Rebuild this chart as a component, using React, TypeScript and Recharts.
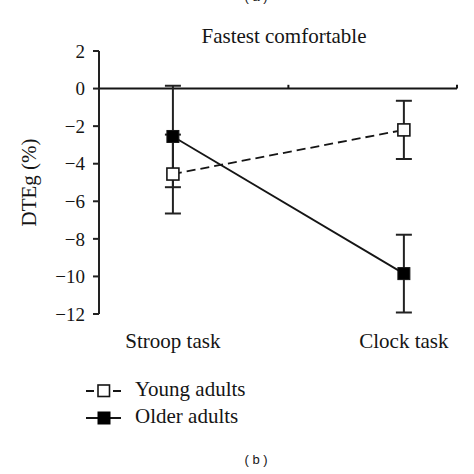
import React from 'react';
import { LineChart, Line, XAxis, YAxis, ReferenceLine, ErrorBar } from 'recharts';

const categories = ['Stroop task', 'Clock task'];
const youngMeans = [-4.55, -2.2];
const youngErrors = [2.1, 1.55];
const olderMeans = [-2.55, -9.85];
const olderErrors = [2.7, 2.07];
const seriesNames = ['Young adults', 'Older adults'];
const yTicks = [2, 0, -2, -4, -6, -8, -10, -12];
const chartTitle = 'Fastest comfortable';
const yLabel = 'DTEg (%)';
const panelLabel = '( b )';
const prevPanelLabel = '( a )';

const data = categories.map((c, i) => ({
  x: i + 1,
  name: c,
  young: youngMeans[i],
  youngErr: youngErrors[i],
  older: olderMeans[i],
  olderErr: olderErrors[i],
}));

const SERIF = '"Liberation Serif", "Times New Roman", serif';
const SANS = '"Liberation Sans", Arial, sans-serif';
const INK = '#151515';

const makeSquare = (filled: boolean) => (props: any) => {
  const { cx, cy, index } = props;
  if (cx == null || cy == null) return <g key={`e${index}`} />;
  return (
    <rect
      key={`sq${filled ? 'f' : 'o'}${index}`}
      x={cx - 6}
      y={cy - 6}
      width={12}
      height={12}
      fill={filled ? '#000' : '#fff'}
      stroke={INK}
      strokeWidth={filled ? 1 : 1.6}
    />
  );
};

const serifStyle = { fontFamily: SERIF };

const XTick = (props: any) => {
  const { x, y, payload } = props;
  const label = categories[Math.round(payload.value) - 1] ?? '';
  return (
    <text x={x} y={y} dy="0.71em" textAnchor="middle" fontSize={21} style={serifStyle} fill={INK}>
      {label}
    </text>
  );
};

const YTick = (props: any) => {
  const { x, y, payload } = props;
  const label = String(payload.value).replace('-', '\u2212');
  return (
    <text x={x} y={y} dy="0.355em" textAnchor="end" fontSize={19} style={serifStyle} fill={INK}>
      {label}
    </text>
  );
};

export default function App() {
  return (
    <div
      style={{
        position: 'absolute',
        left: 0,
        top: 0,
        width: 474,
        height: 474,
        background: '#fff',
        fontFamily: SERIF,
      }}
    >
      <LineChart
        width={474}
        height={474}
        data={data}
        margin={{ top: 51, right: 17, bottom: 110, left: 39 }}
        style={{ fontFamily: SERIF }}
      >
        <XAxis
          dataKey="x"
          type="number"
          domain={[0.68, 2.23]}
          allowDataOverflow
          ticks={[1, 2]}
          axisLine={false}
          tickLine={false}
          tickSize={6}
          tickMargin={13}
          height={50}
          tick={<XTick />}
        />
        <YAxis
          type="number"
          domain={[-12, 2]}
          ticks={yTicks}
          interval={0}
          width={60}
          tickSize={6}
          tickMargin={8}
          axisLine={{ stroke: '#222', strokeWidth: 2 }}
          tickLine={{ stroke: '#222', strokeWidth: 2 }}
          tick={<YTick />}
          label={{
            value: yLabel,
            angle: -90,
            position: 'insideLeft',
            offset: -10.5,
            style: { textAnchor: 'middle', fontSize: 21, fill: INK, fontFamily: SERIF },
          }}
        />
        <ReferenceLine y={0} stroke={INK} strokeWidth={2} />
        <ReferenceLine segment={[{ x: 1.5, y: 0 }, { x: 1.5, y: 0.2 }]} stroke={INK} strokeWidth={2} />
        <ReferenceLine segment={[{ x: 2.23, y: 0 }, { x: 2.23, y: 0.2 }]} stroke={INK} strokeWidth={2} />
        <Line
          dataKey="older"
          name={seriesNames[1]}
          stroke={INK}
          strokeWidth={1.8}
          isAnimationActive={false}
          dot={makeSquare(true)}
          activeDot={false}
        >
          <ErrorBar dataKey="olderErr" width={8} stroke="#222" strokeWidth={2} direction="y" />
        </Line>
        <Line
          dataKey="young"
          name={seriesNames[0]}
          stroke={INK}
          strokeWidth={1.8}
          strokeDasharray="9 5"
          isAnimationActive={false}
          dot={makeSquare(false)}
          activeDot={false}
        >
          <ErrorBar dataKey="youngErr" width={8} stroke="#222" strokeWidth={2} direction="y" />
        </Line>
      </LineChart>
      <svg
        width={474}
        height={474}
        style={{ position: 'absolute', left: 0, top: 0, pointerEvents: 'none' }}
      >
        <text x={256} y={1} textAnchor="middle" fontSize={13} fontFamily={SANS} fill={INK}>
          {prevPanelLabel}
        </text>
        <text x={284} y={43} textAnchor="middle" fontSize={21} style={serifStyle} fill={INK}>
          {chartTitle}
        </text>
        <g>
          <line x1={86} x2={94} y1={391} y2={391} stroke={INK} strokeWidth={2} />
          <line x1={113} x2={121} y1={391} y2={391} stroke={INK} strokeWidth={2} />
          <rect x={98} y={385} width={11.5} height={11.5} fill="#fff" stroke={INK} strokeWidth={1.6} />
          <text x={135} y={396} fontSize={21} style={serifStyle} fill={INK}>
            {seriesNames[0]}
          </text>
        </g>
        <g>
          <line x1={86} x2={121} y1={418} y2={418} stroke={INK} strokeWidth={2} />
          <rect x={97.5} y={411.5} width={13} height={13} fill="#000" />
          <text x={135} y={423} fontSize={21} style={serifStyle} fill={INK}>
            {seriesNames[1]}
          </text>
        </g>
        <text x={256} y={464} textAnchor="middle" fontSize={13} fontFamily={SANS} fill={INK}>
          {panelLabel}
        </text>
      </svg>
    </div>
  );
}
